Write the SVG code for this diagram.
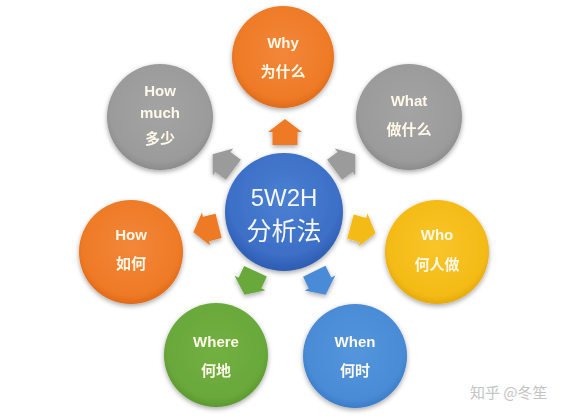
<svg xmlns="http://www.w3.org/2000/svg" width="575" height="416" viewBox="0 0 575 416">
<defs>
<filter id="sh" x="-20%" y="-20%" width="140%" height="140%">
<feGaussianBlur in="SourceAlpha" stdDeviation="2.5"/>
<feOffset dx="0" dy="2" result="b"/>
<feComponentTransfer><feFuncA type="linear" slope="0.35"/></feComponentTransfer>
<feMerge><feMergeNode/><feMergeNode in="SourceGraphic"/></feMerge>
</filter>
<radialGradient id="gOrange" cx="50%" cy="45%" r="55%"><stop offset="0" stop-color="#f3873a"/><stop offset="0.85" stop-color="#ee7a26"/><stop offset="1" stop-color="#e06a18"/></radialGradient>
<radialGradient id="gGray" cx="50%" cy="45%" r="55%"><stop offset="0" stop-color="#a4a4a4"/><stop offset="0.85" stop-color="#9b9b9b"/><stop offset="1" stop-color="#8c8c8c"/></radialGradient>
<radialGradient id="gYellow" cx="50%" cy="45%" r="55%"><stop offset="0" stop-color="#f8c52a"/><stop offset="0.85" stop-color="#f4bb16"/><stop offset="1" stop-color="#e6aa0c"/></radialGradient>
<radialGradient id="gBlue" cx="50%" cy="45%" r="55%"><stop offset="0" stop-color="#5496dc"/><stop offset="0.85" stop-color="#4a8bd6"/><stop offset="1" stop-color="#3b7cc8"/></radialGradient>
<radialGradient id="gGreen" cx="50%" cy="45%" r="55%"><stop offset="0" stop-color="#72b042"/><stop offset="0.85" stop-color="#69a83a"/><stop offset="1" stop-color="#5b992f"/></radialGradient>
<radialGradient id="gCenter" cx="50%" cy="40%" r="58%"><stop offset="0" stop-color="#4a80d2"/><stop offset="0.8" stop-color="#3c6fc6"/><stop offset="1" stop-color="#2f5fb4"/></radialGradient>
<path id="arr" d="M0,-13 L17,0 L12.5,0 L12.5,13 L-12.5,13 L-12.5,0 L-17,0 Z"/>
</defs>
<style>
.lbl{font-family:"Liberation Sans","Noto Sans CJK SC",sans-serif;font-weight:bold;font-size:15px;fill:#fdf8e8;text-anchor:middle}
.cjk{font-family:"Noto Sans CJK SC",sans-serif;font-weight:bold;font-size:15px;fill:#fdf8e8;text-anchor:middle}
.ctr{font-family:"Liberation Sans","Noto Sans CJK SC",sans-serif;font-size:24px;fill:#f4f6fb;text-anchor:middle}
.ctrc{font-family:"Noto Sans CJK SC",sans-serif;font-size:25px;fill:#f4f6fb;text-anchor:middle}
.wm{font-family:"Noto Sans CJK SC",sans-serif;font-size:15px;fill:#c4c4c4}
</style>
<rect width="575" height="416" fill="#ffffff"/>
<g id="connectors" filter="url(#sh)">
<use href="#arr" fill="#ee7a26" transform="translate(285,132) rotate(0)"/>
<use href="#arr" fill="#9b9b9b" transform="translate(345,162) rotate(53)"/>
<use href="#arr" fill="#f4bb16" transform="translate(363,230) rotate(105)"/>
<use href="#arr" fill="#4a8bd6" transform="translate(320,283) rotate(154)"/>
<use href="#arr" fill="#69a83a" transform="translate(250,283) rotate(-155)"/>
<use href="#arr" fill="#ee7a26" transform="translate(206,229) rotate(-104)"/>
<use href="#arr" fill="#9b9b9b" transform="translate(223,162) rotate(-53)"/>
</g>
<g id="center" filter="url(#sh)">
<circle cx="284" cy="212" r="59" fill="url(#gCenter)"/>
<text class="ctr" x="284" y="206">5W2H</text>
<text class="ctrc" x="284" y="240">分析法</text>
</g>
<g id="why" filter="url(#sh)">
<circle cx="283" cy="57" r="51" fill="url(#gOrange)"/>
<text class="lbl" x="283" y="48">Why</text>
<text class="cjk" x="283" y="77">为什么</text>
</g>
<g id="what" filter="url(#sh)">
<circle cx="409" cy="117" r="53" fill="url(#gGray)"/>
<text class="lbl" x="409" y="106">What</text>
<text class="cjk" x="409" y="135">做什么</text>
</g>
<g id="who" filter="url(#sh)">
<circle cx="437" cy="252" r="52" fill="url(#gYellow)"/>
<text class="lbl" x="437" y="240">Who</text>
<text class="cjk" x="437" y="270">何人做</text>
</g>
<g id="when" filter="url(#sh)">
<circle cx="355" cy="356" r="52" fill="url(#gBlue)"/>
<text class="lbl" x="355" y="347">When</text>
<text class="cjk" x="355" y="376">何时</text>
</g>
<g id="where" filter="url(#sh)">
<circle cx="216" cy="355" r="52" fill="url(#gGreen)"/>
<text class="lbl" x="216" y="347">Where</text>
<text class="cjk" x="216" y="376">何地</text>
</g>
<g id="how" filter="url(#sh)">
<circle cx="131" cy="252" r="52" fill="url(#gOrange)"/>
<text class="lbl" x="131" y="240">How</text>
<text class="cjk" x="131" y="269">如何</text>
</g>
<g id="howmuch" filter="url(#sh)">
<circle cx="160" cy="117" r="53" fill="url(#gGray)"/>
<text class="lbl" x="160" y="96">How</text>
<text class="lbl" x="160" y="118">much</text>
<text class="cjk" x="160" y="144">多少</text>
</g>
<text class="wm" x="470" y="398">知乎 @冬笙</text>
</svg>
